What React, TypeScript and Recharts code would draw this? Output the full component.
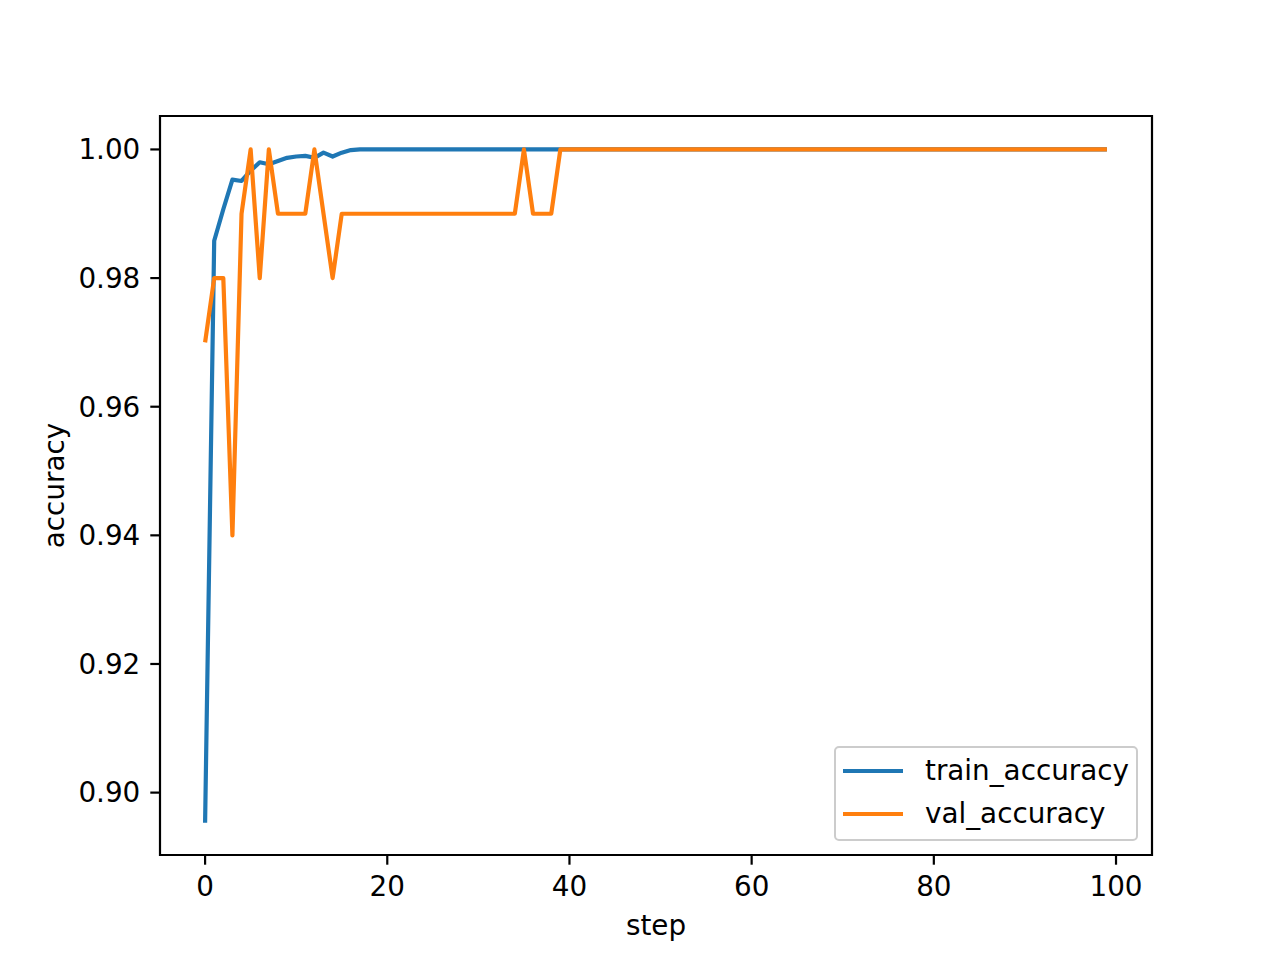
import React from 'react';
import { LineChart, Line, XAxis, YAxis, ReferenceArea, Legend, Label } from 'recharts';

const steps = [
  0, 1, 2, 3, 4, 5, 6, 7, 8, 9,
  10, 11, 12, 13, 14, 15, 16, 17, 18, 19,
  20, 21, 22, 23, 24, 25, 26, 27, 28, 29,
  30, 31, 32, 33, 34, 35, 36, 37, 38, 39,
  40, 41, 42, 43, 44, 45, 46, 47, 48, 49,
  50, 51, 52, 53, 54, 55, 56, 57, 58, 59,
  60, 61, 62, 63, 64, 65, 66, 67, 68, 69,
  70, 71, 72, 73, 74, 75, 76, 77, 78, 79,
  80, 81, 82, 83, 84, 85, 86, 87, 88, 89,
  90, 91, 92, 93, 94, 95, 96, 97, 98, 99,
];

const trainAccuracy = [
  0.8953, 0.9858, 0.9907, 0.9953, 0.9951, 0.9967, 0.998, 0.9977, 0.9982, 0.9987,
  0.9989, 0.999, 0.9987, 0.9995, 0.9989, 0.9995, 0.9999, 1, 1, 1,
  1, 1, 1, 1, 1, 1, 1, 1, 1, 1,
  1, 1, 1, 1, 1, 1, 1, 1, 1, 1,
  1, 1, 1, 1, 1, 1, 1, 1, 1, 1,
  1, 1, 1, 1, 1, 1, 1, 1, 1, 1,
  1, 1, 1, 1, 1, 1, 1, 1, 1, 1,
  1, 1, 1, 1, 1, 1, 1, 1, 1, 1,
  1, 1, 1, 1, 1, 1, 1, 1, 1, 1,
  1, 1, 1, 1, 1, 1, 1, 1, 1, 1,
];

const valAccuracy = [
  0.97, 0.98, 0.98, 0.94, 0.99, 1, 0.98, 1, 0.99, 0.99,
  0.99, 0.99, 1, 0.99, 0.98, 0.99, 0.99, 0.99, 0.99, 0.99,
  0.99, 0.99, 0.99, 0.99, 0.99, 0.99, 0.99, 0.99, 0.99, 0.99,
  0.99, 0.99, 0.99, 0.99, 0.99, 1, 0.99, 0.99, 0.99, 1,
  1, 1, 1, 1, 1, 1, 1, 1, 1, 1,
  1, 1, 1, 1, 1, 1, 1, 1, 1, 1,
  1, 1, 1, 1, 1, 1, 1, 1, 1, 1,
  1, 1, 1, 1, 1, 1, 1, 1, 1, 1,
  1, 1, 1, 1, 1, 1, 1, 1, 1, 1,
  1, 1, 1, 1, 1, 1, 1, 1, 1, 1,
];

const xTicks = [0, 20, 40, 60, 80, 100];
const yTicks = [0.9, 0.92, 0.94, 0.96, 0.98, 1.0];
const xDomain: [number, number] = [-4.95, 103.95];
const yDomain: [number, number] = [0.8903, 1.0052];

const data = steps.map((s, i) => ({
  step: s,
  train_accuracy: trainAccuracy[i],
  val_accuracy: valAccuracy[i],
}));

const FONT = "'DejaVu Sans', sans-serif";
const FS = 27.8;
const BLUE = '#1f77b4';
const ORANGE = '#ff7f0e';

const renderLegend = (props: any) => {
  const payload = props.payload || [];
  return (
    <div
      style={{
        boxSizing: 'border-box',
        width: 304,
        height: 95,
        border: '2px solid #cccccc',
        borderRadius: 5,
        background: 'rgba(255,255,255,0.8)',
        paddingTop: 1,
        fontFamily: FONT,
        fontSize: FS,
        color: '#000',
      }}
    >
      {payload.map((entry: any) => (
        <div
          key={entry.value}
          style={{ display: 'flex', alignItems: 'center', height: 43, whiteSpace: 'nowrap' }}
        >
          <svg width={60} height={10} style={{ marginLeft: 7, marginRight: 22, flex: 'none' }}>
            <line x1={0} y1={5} x2={60} y2={5} stroke={entry.color} strokeWidth={4.2} />
          </svg>
          <span style={{ lineHeight: '43px' }}>{entry.value}</span>
        </div>
      ))}
    </div>
  );
};

const YLabel = (props: any) => {
  const vb = props.viewBox || {};
  const cx = 64;
  const cy = vb.y + vb.height / 2;
  return (
    <text
      x={cx}
      y={cy}
      transform={`rotate(-90, ${cx}, ${cy})`}
      textAnchor="middle"
      fontFamily={FONT}
      fontSize={FS}
      fill="#000"
    >
      accuracy
    </text>
  );
};

export default function App() {
  return (
    <div style={{ position: 'absolute', left: 0, top: 0, width: 1280, height: 960, background: '#fff' }}>
      <LineChart
        width={1280}
        height={960}
        data={data}
        margin={{ top: 116, right: 128, bottom: 0, left: 0 }}
      >
        <XAxis
          dataKey="step"
          type="number"
          domain={xDomain}
          ticks={xTicks}
          allowDataOverflow
          height={105}
          axisLine={false}
          tickSize={9.7}
          tickMargin={12}
          tickLine={{ stroke: '#000', strokeWidth: 2.2 }}
          tick={{ fill: '#000', fontSize: FS, fontFamily: FONT }}
          interval={0}
        >
          <Label
            value="step"
            position="insideBottom"
            offset={25}
            style={{ fontFamily: FONT, fontSize: FS, fill: '#000' }}
          />
        </XAxis>
        <YAxis
          type="number"
          domain={yDomain}
          ticks={yTicks}
          allowDataOverflow
          width={160}
          axisLine={false}
          tickSize={9.7}
          tickMargin={10}
          tickLine={{ stroke: '#000', strokeWidth: 2.2 }}
          tick={{ fill: '#000', fontSize: FS, fontFamily: FONT }}
          tickFormatter={(v: number) => v.toFixed(2)}
          interval={0}
        >
          <Label content={<YLabel />} />
        </YAxis>
        <Line
          type="linear"
          dataKey="train_accuracy"
          name="train_accuracy"
          stroke={BLUE}
          strokeWidth={4.2}
          strokeLinejoin="round"
          dot={false}
          activeDot={false}
          isAnimationActive={false}
        />
        <Line
          type="linear"
          dataKey="val_accuracy"
          name="val_accuracy"
          stroke={ORANGE}
          strokeWidth={4.2}
          strokeLinejoin="round"
          dot={false}
          activeDot={false}
          isAnimationActive={false}
        />
        <ReferenceArea
          x1={xDomain[0]}
          x2={xDomain[1]}
          y1={yDomain[0]}
          y2={yDomain[1]}
          fill="none"
          fillOpacity={0}
          stroke="#000"
          strokeWidth={2.2}
          ifOverflow="visible"
        />
        <Legend
          layout="vertical"
          align="center"
          verticalAlign="middle"
          content={renderLegend}
          wrapperStyle={{ position: 'absolute', left: 834, top: 746, width: 304, height: 95 }}
        />
      </LineChart>
    </div>
  );
}
